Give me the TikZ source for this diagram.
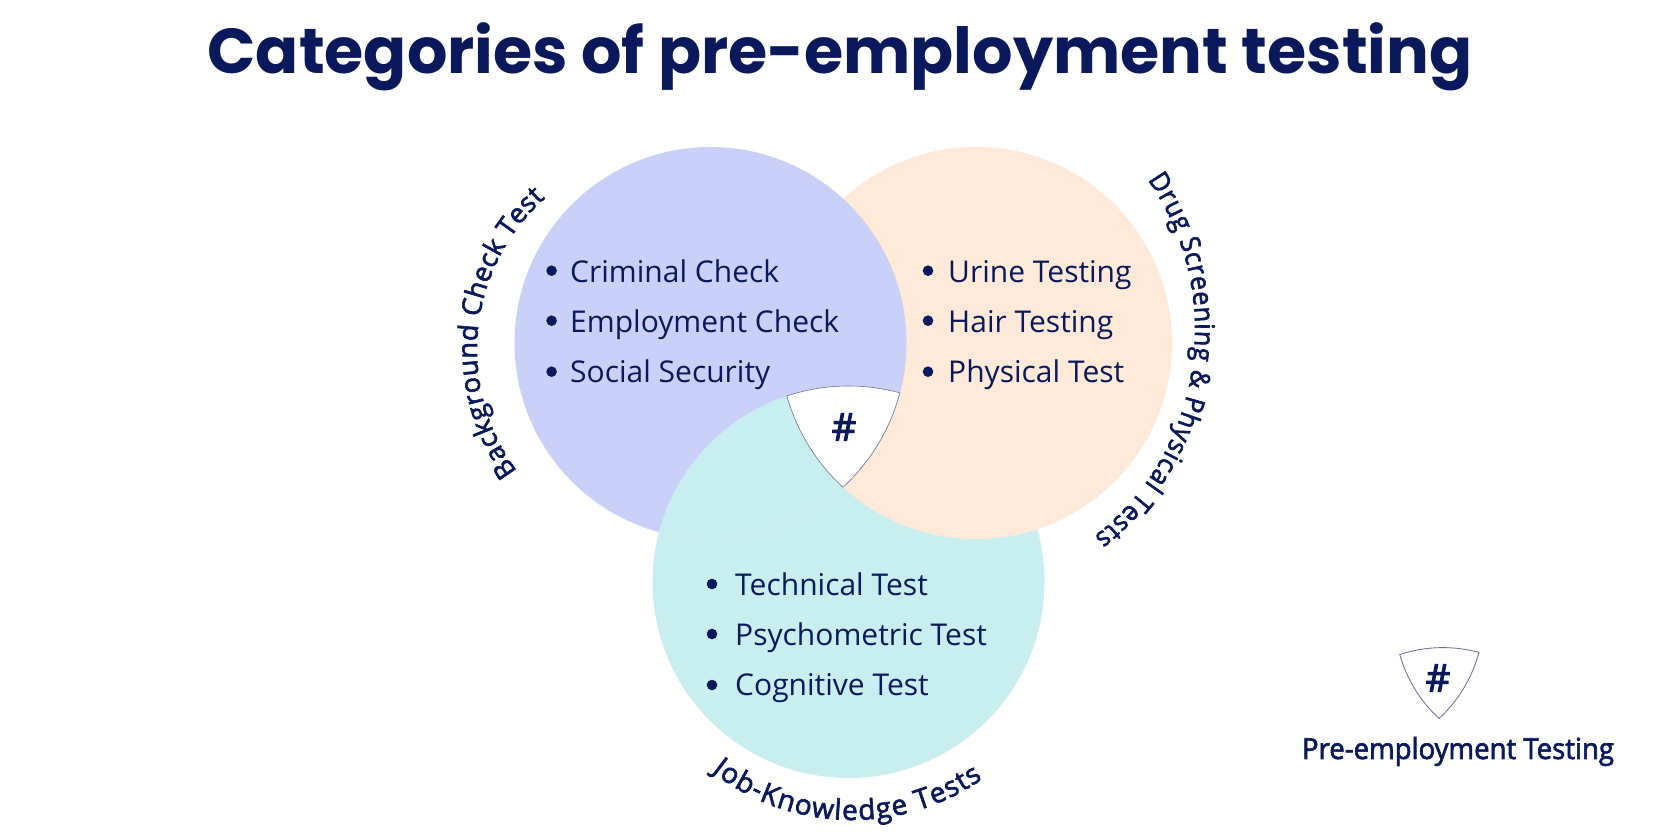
\documentclass[tikz,border=0pt]{standalone}
\usepackage{fontspec}
\setmainfont{Open Sans}
\newfontfamily\titlefont{Poppins}
\newfontfamily\semifont[FakeBold=2.2]{Open Sans}
\newfontfamily\semitight[FakeBold=2.2,FakeStretch=0.93]{Open Sans}
\newfontfamily\hashfont[FakeBold=2.8]{Open Sans}
\newfontfamily\semicond[FakeBold=2.2,FakeStretch=0.95]{Open Sans}
\usetikzlibrary{decorations.text}
\definecolor{navy}{RGB}{10,25,92}
\definecolor{cblue}{RGB}{202,209,249}
\definecolor{corange}{RGB}{255,233,217}
\definecolor{cteal}{RGB}{201,238,240}
\definecolor{edge}{RGB}{105,115,155}
\newcommand{\wedgeshape}{(787.2,444.2) arc[start angle=108.2,end angle=74.8,radius=196pt] arc[start angle=-14.75,end angle=-47.4,radius=196pt] arc[start angle=227.4,end angle=195.6,radius=196pt] -- cycle}
\newcommand{\curvefont}{\semifont\fontsize{27}{32}\selectfont\color{navy}}
\newcommand{\curvetight}{\semitight\fontsize{27}{32}\selectfont\color{navy}}
\newcommand{\curvelarge}{\semifont\fontsize{28}{33}\selectfont\color{navy}}
\tikzset{
  item/.style={anchor=base west,inner sep=0pt,text=navy,font=\fontsize{30}{36}\selectfont},
  dotmark/.style={circle,fill=navy,inner sep=0pt,minimum size=10.6pt},
  hashmark/.style={inner sep=0pt,text=navy,font=\hashfont\fontsize{38}{44}\selectfont},
  wedgeline/.style={fill=white,draw=edge,line width=0.6pt,line join=miter}
}
\begin{document}
\begin{tikzpicture}[x=1pt,y=1pt]
\useasboundingbox (0,0) rectangle (1680,840);
\fill[white] (0,0) rectangle (1680,840);
\node[inner sep=0pt,anchor=base,text=navy,font=\titlefont\fontsize{63.5}{76}\selectfont\bfseries] (title) at (840,766) {Categories of pre-employment testing};
% circles
\fill[cteal] (848.5,258) circle[radius=196pt];
\fill[corange] (976,497) circle[radius=196pt];
\fill[cblue] (710.5,497) circle[radius=196pt];
\begin{scope}
\clip (710.5,497) circle[radius=196pt];
\fill[cteal] (848.5,258) circle[radius=196pt];
\end{scope}
% centre wedge
\draw[wedgeline] \wedgeshape;
\node[hashmark] (hashmain) at (844,413) {\#};
% lists
\node[dotmark] (d1) at (551.6,569.3) {};
\node[item] (t1) at (570,557.3) {Criminal Check};
\node[dotmark] (d2) at (551.6,519.3) {};
\node[item] (t2) at (570,507.3) {Employment Check};
\node[dotmark] (d3) at (551.6,468.3) {};
\node[item] (t3) at (570,457.3) {Social Security};
\node[dotmark] (d4) at (928,569.3) {};
\node[item] (t4) at (948,557.3) {Urine Testing};
\node[dotmark] (d5) at (928,519.3) {};
\node[item] (t5) at (948,507.3) {Hair Testing};
\node[dotmark] (d6) at (928,468.3) {};
\node[item] (t6) at (948,457.3) {Physical Test};
\node[dotmark] (d7) at (712,256) {};
\node[item] (t7) at (735,244) {Technical Test};
\node[dotmark] (d8) at (712,206) {};
\node[item] (t8) at (735,194) {Psychometric Test};
\node[dotmark] (d9) at (712,155) {};
\node[item] (t9) at (735,144) {Cognitive Test};
% curved labels
\path[decorate,decoration={text along path,text align={fit to path},text={|\curvefont|Background Check Test}}] (680,490) ++(216.7:203pt) arc[start angle=216.7,end angle=131.6,radius=203pt];
\path[decorate,decoration={text along path,text align={fit to path},text={|\curvetight|Drug Screening {\&} Physical Tests}}] (933,510) ++(35:262pt) arc[start angle=35,end angle=-52,radius=262pt];
\path[decorate,decoration={text along path,text align={fit to path},text={|\curvelarge|Job-Knowledge Tests}}] (852,248) ++(232:228pt) arc[start angle=232,end angle=305,radius=228pt];
% legend
\begin{scope}[shift={(849,-125.4)},scale=0.7]
\draw[wedgeline,line width=0.85pt] \wedgeshape;
\end{scope}
\node[hashmark] (hashlegend) at (1438,162) {\#};
\node[inner sep=0pt,anchor=base,text=navy,font=\semicond\fontsize{29}{34}\selectfont] (legend) at (1458,81) {Pre-employment Testing};
\end{tikzpicture}
\end{document}
